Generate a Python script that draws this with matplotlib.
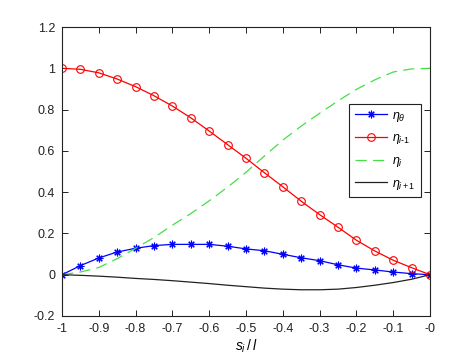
import numpy as np
import matplotlib
matplotlib.use('Agg')
import matplotlib.pyplot as plt
from matplotlib.ticker import FormatStrFormatter

plt.rcParams['font.family'] = ['Liberation Sans', 'DejaVu Sans']
plt.rcParams['mathtext.fontset'] = 'custom'
plt.rcParams['mathtext.it'] = 'Liberation Sans:italic'
plt.rcParams['mathtext.rm'] = 'Liberation Sans'

# s_i / l sample positions
s = [-1.0, -0.95, -0.9, -0.85, -0.8, -0.75, -0.7, -0.65, -0.6, -0.55, -0.5,
     -0.45, -0.4, -0.35, -0.3, -0.25, -0.2, -0.15, -0.1, -0.05, 0.0]

# shape function values
eta_theta = [0.0, 0.044, 0.081, 0.110, 0.128, 0.141, 0.147, 0.147, 0.147, 0.138, 0.125,
             0.116, 0.099, 0.082, 0.068, 0.048, 0.032, 0.023, 0.013, 0.005, 0.0]
eta_im1 = [1.0, 0.995, 0.978, 0.948, 0.911, 0.867, 0.817, 0.760, 0.696, 0.630, 0.564,
           0.494, 0.426, 0.356, 0.291, 0.230, 0.167, 0.115, 0.070, 0.034, 0.0]
eta_i = [0.0, 0.013, 0.035, 0.078, 0.128, 0.180, 0.240, 0.296, 0.358, 0.424, 0.496,
         0.575, 0.652, 0.720, 0.782, 0.842, 0.898, 0.944, 0.982, 0.997, 1.0]
eta_ip1 = [0.0, -0.003, -0.007, -0.012, -0.018, -0.023, -0.029, -0.036, -0.043, -0.051, -0.058,
           -0.065, -0.070, -0.073, -0.073, -0.070, -0.062, -0.051, -0.038, -0.022, 0.0]

xticks = np.round(np.arange(-1, 0.01, 0.1), 1)
yticks = np.round(np.arange(-0.2, 1.21, 0.2), 1)

fig = plt.figure(figsize=(4.74, 3.55), dpi=100)
ax = fig.add_axes([0.1308, 0.1099, 0.7764, 0.8140])

ax.plot(s, eta_theta, color='#0000ff', marker=(8, 2, 0), markersize=5.5, markeredgewidth=0.8,
        linewidth=0.9, label=r'$\eta_\theta$')
ax.plot(s, eta_im1, color='#ff0000', marker='o', markersize=5.5, markerfacecolor='none',
        markeredgewidth=0.8, linewidth=0.9, label=r'$\eta_{i\text{-}1}$')
ax.plot(s, eta_i, color='#44e044', linestyle=(0, (9, 5)), linewidth=0.9, label=r'$\eta_i$')
ax.plot(s, eta_ip1, color='#222222', linewidth=0.9, label=r'$\eta_{i+1}$')

ax.set_xlim(-1, 0)
ax.set_ylim(-0.2, 1.2)
ax.set_xticks(xticks)
ax.set_yticks(yticks)
ax.xaxis.set_major_formatter(FormatStrFormatter('%g'))
ax.yaxis.set_major_formatter(FormatStrFormatter('%g'))
ax.tick_params(direction='in', top=True, right=True, labelsize=9, length=4, width=0.7,
               colors='#222222', pad=5)
for sp in ax.spines.values():
    sp.set_linewidth(0.8)
    sp.set_color('#222222')

ax.set_xlabel(r'$s_i\,/\,l$', fontsize=10, labelpad=2)

leg = ax.legend(loc='upper right', bbox_to_anchor=(0.976, 0.734), borderaxespad=0,
                fancybox=False, edgecolor='#222222', fontsize=9, handlelength=2.6,
                handletextpad=0.4, labelspacing=0.7, borderpad=0.45, framealpha=1)
leg.get_frame().set_linewidth(0.8)

fig.savefig('out.png', dpi=100)
